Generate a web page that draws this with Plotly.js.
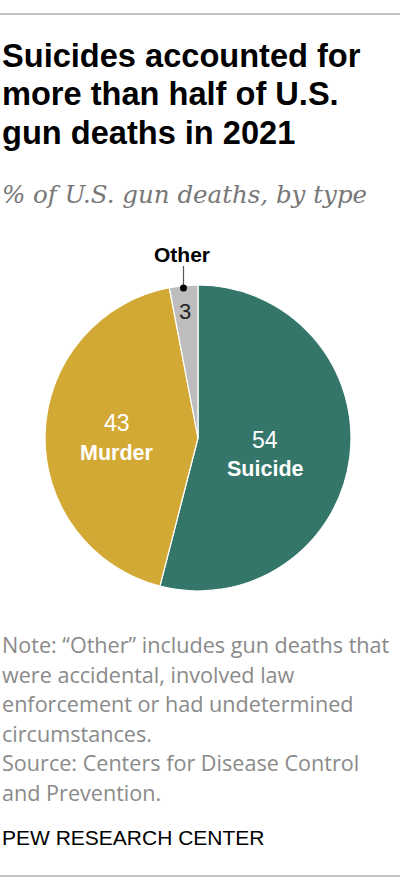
<!DOCTYPE html>
<html>
<head>
<meta charset="utf-8">
<script src="https://cdn.plot.ly/plotly-3.0.1.min.js"></script>
<style>
  body { margin: 0; background: #fff; }
  #chart { width: 400px; height: 890px; }
</style>
</head>
<body>
<div id="chart"></div>
<script>
// data
var labels = ['Suicide', 'Murder', 'Other'];
var values = [54, 43, 3];
var colors = ['#35766a', '#d3a935', '#bdbdbd'];

var W = 400, H = 890;
function px(x) { return x / W; }
function py(y) { return 1 - y / H; }

var trace = {
  type: 'pie',
  labels: labels,
  values: values,
  sort: false,
  direction: 'clockwise',
  rotation: 0,
  textinfo: 'none',
  hoverinfo: 'label+value',
  marker: { colors: colors, line: { color: '#ffffff', width: 1.2 } },
  domain: { x: [px(45), px(351)], y: [py(591), py(285)] },
  showlegend: false
};

var sans = 'Liberation Sans, Arial, sans-serif';
var note = { family: 'Open Sans, sans-serif', size: 21.6, color: '#8a8a8a' };

function txt(x, y, text, font, anchor) {
  return {
    xref: 'paper', yref: 'paper', x: px(x), y: py(y),
    text: text, showarrow: false, font: font,
    xanchor: anchor || 'left', yanchor: 'middle', align: 'left'
  };
}

var titleFont = { family: sans, size: 32.6, color: '#000', weight: 'bold' };
var annotations = [
  txt(0, 56, 'Suicides accounted for', titleFont),
  txt(0, 94, 'more than half of U.S.', titleFont),
  txt(0, 132, 'gun deaths in 2021', titleFont),
  txt(0, 195, '% of U.S. gun deaths, by type',
      { family: 'DejaVu Serif, serif', size: 24.5, color: '#777', style: 'italic' }),

  // slice labels
  txt(265, 440, String(values[0]), { family: sans, size: 23, color: '#fff' }, 'center'),
  txt(265, 469, labels[0], { family: sans, size: 21.5, color: '#fff', weight: 'bold' }, 'center'),
  txt(117, 423, String(values[1]), { family: sans, size: 23, color: '#fff' }, 'center'),
  txt(117, 453, labels[1], { family: sans, size: 21.5, color: '#fff', weight: 'bold' }, 'center'),
  txt(182, 254, labels[2], { family: sans, size: 21, color: '#000', weight: 'bold' }, 'center'),
  txt(185, 311, String(values[2]), { family: sans, size: 22, color: '#222' }, 'center'),

  // notes
  txt(0, 644, 'Note: “Other” includes gun deaths that', note),
  txt(0, 674, 'were accidental, involved law', note),
  txt(0, 703, 'enforcement or had undetermined', note),
  txt(0, 733, 'circumstances.', note),
  txt(0, 762, 'Source: Centers for Disease Control', note),
  txt(0, 792, 'and Prevention.', note),
  txt(0, 837, 'PEW RESEARCH CENTER', { family: sans, size: 21, color: '#000' })
];

var shapes = [
  { type: 'line', xref: 'paper', yref: 'paper', x0: 0, x1: 1, y0: py(14), y1: py(14),
    line: { color: '#888', width: 1 } },
  { type: 'line', xref: 'paper', yref: 'paper', x0: 0, x1: 1, y0: py(876), y1: py(876),
    line: { color: '#888', width: 1 } },
  { type: 'line', xref: 'paper', yref: 'paper', x0: px(183.5), x1: px(183.5), y0: py(266), y1: py(288),
    line: { color: '#555', width: 1.2 } },
  { type: 'circle', xref: 'paper', yref: 'paper', x0: px(180), x1: px(187), y0: py(291.5), y1: py(284.5),
    fillcolor: '#000', line: { width: 0 } }
];

var layout = {
  width: W,
  height: H,
  margin: { l: 0, r: 0, t: 0, b: 0 },
  paper_bgcolor: '#fff',
  annotations: annotations,
  shapes: shapes
};

Plotly.newPlot('chart', [trace], layout, { displayModeBar: false, staticPlot: true });
</script>
</body>
</html>
